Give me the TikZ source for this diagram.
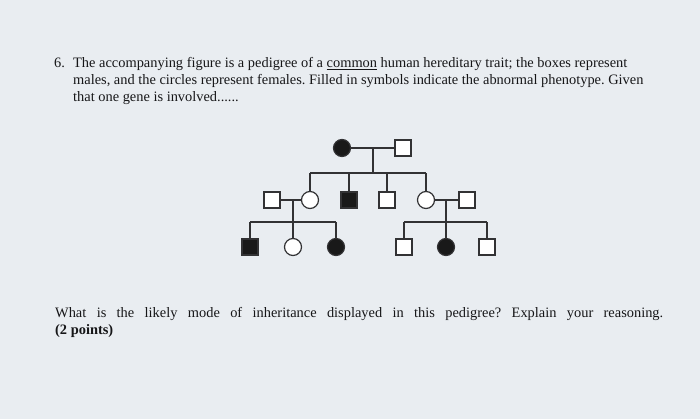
\documentclass[tikz,border=0pt]{standalone}
\usepackage{fontspec}
\setmainfont{Liberation Serif}
\definecolor{bgc}{RGB}{233,237,241}
\definecolor{ink}{RGB}{22,22,24}
\definecolor{pline}{RGB}{50,50,52}
\begin{document}
\frenchspacing
\begin{tikzpicture}[x=1pt,y=-1pt,
  txt/.style={anchor=base west,inner sep=0pt,text=ink,font=\fontsize{14.4}{17}\selectfont},
  male/.style={draw=pline,line width=1.2pt,rectangle,minimum size=16pt,inner sep=0pt,fill=white},
  female/.style={draw=pline,line width=1.2pt,circle,minimum size=17pt,inner sep=0pt,fill=white},
  aff/.style={fill=black!90},
  link/.style={draw=pline,line width=1.2pt}]
\fill[bgc] (0,0) rectangle (700,419);
\useasboundingbox (0,0) rectangle (700,419);
% question text
\node[txt] (n6) at (54,68) {6.};
\node[txt] (l1) at (73,68) {The accompanying figure is a pedigree of a \underline{common} human hereditary trait; the boxes represent};
\node[txt] (l2) at (73,85) {males, and the circles represent females. Filled in symbols indicate the abnormal phenotype. Given};
\node[txt] (l3) at (73,102) {that one gene is involved......};
\node[txt] (q1) at (55,317) {\makebox[608pt][s]{What is the likely mode of inheritance displayed in this pedigree? Explain your reasoning.}};
\node[txt] (q2) at (55,334) {\textbf{(2 points)}};
% generation I
\node[female,aff] (I1) at (342,148) {};
\node[male] (I2) at (403,148) {};
\coordinate (m1) at (373,148);
\coordinate (s1) at (373,173);
% generation II
\node[male] (sp1) at (272,200) {};
\node[female] (a) at (310,200) {};
\node[male,aff] (b) at (349,200) {};
\node[male] (c) at (387,200) {};
\node[female] (d) at (426,200) {};
\node[male] (sp2) at (467,200) {};
\coordinate (m2) at (293,200);
\coordinate (s2) at (293,222);
\coordinate (m3) at (446,200);
\coordinate (s3) at (446,222);
% generation III
\node[male,aff] (e) at (250,247) {};
\node[female] (f) at (293,247) {};
\node[female,aff] (g) at (336,247) {};
\node[male] (h) at (404,247) {};
\node[female,aff] (i) at (446,247) {};
\node[male] (j) at (487,247) {};
% connectors
\draw[link] (I1) -- (I2);
\draw[link] (m1) -- (s1);
\draw[link] (a |- s1) -- (d |- s1);
\foreach \k in {a,b,c,d} \draw[link] (\k) -- (\k |- s1);
\draw[link] (sp1) -- (a);
\draw[link] (m2) -- (s2);
\draw[link] (e |- s2) -- (g |- s2);
\foreach \k in {e,f,g} \draw[link] (\k) -- (\k |- s2);
\draw[link] (d) -- (sp2);
\draw[link] (m3) -- (s3);
\draw[link] (h |- s3) -- (j |- s3);
\foreach \k in {h,i,j} \draw[link] (\k) -- (\k |- s3);
\end{tikzpicture}
\end{document}
